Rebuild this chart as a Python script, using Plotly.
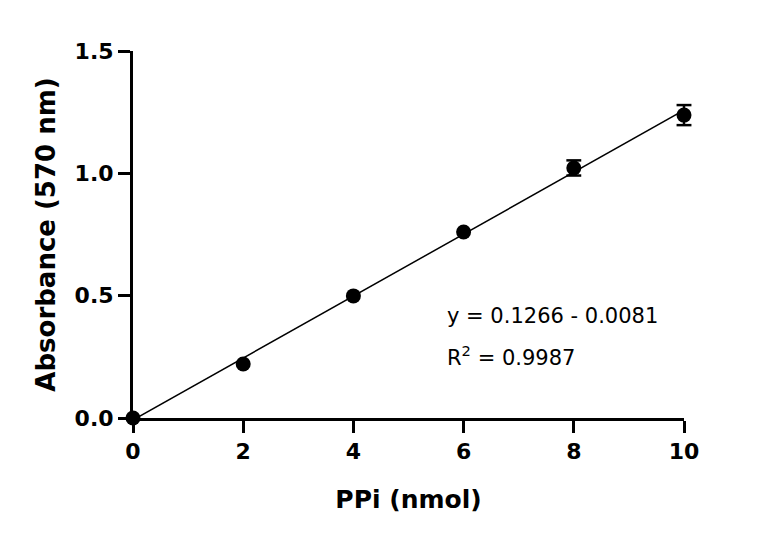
import plotly.graph_objects as go

ppi = [0, 2, 4, 6, 8, 10]
absorbance = [0.0, 0.221, 0.499, 0.760, 1.022, 1.238]
err = [0.0, 0.0, 0.0, 0.0, 0.031, 0.041]
slope = 0.1266
intercept = -0.0081
r2 = 0.9987
x_ticks = [0, 2, 4, 6, 8, 10]
y_ticks = [0.0, 0.5, 1.0, 1.5]

fit_x = [0, 10]
fit_y = [intercept + slope * v for v in fit_x]

# error bars built as line segments (on a wider data axis so they are not clipped)
cap = 0.135
ex, ey = [], []
for xv, yv, e in zip(ppi, absorbance, err):
    if e > 0:
        ex += [xv, xv, None, xv - cap, xv + cap, None, xv - cap, xv + cap, None]
        ey += [yv - e, yv + e, None, yv - e, yv - e, None, yv + e, yv + e, None]

font = "'DejaVu Sans', sans-serif"

# visible axis spans [0, 10] over a fraction of the plot width; data axis x2 spans full width
L, R = 133, 60
plot_w = 768 - L - R
axis_px = 551
dom = axis_px / plot_w
x2_max = 10 / dom

fig = go.Figure()
fig.add_trace(go.Scatter(x=fit_x, y=fit_y, mode="lines", xaxis="x", yaxis="y",
                         line=dict(color="black", width=1.5), cliponaxis=False,
                         showlegend=False, hoverinfo="skip"))
fig.add_trace(go.Scatter(x=ex, y=ey, mode="lines", xaxis="x2", yaxis="y",
                         line=dict(color="black", width=2.5), cliponaxis=False,
                         showlegend=False, hoverinfo="skip"))
fig.add_trace(go.Scatter(x=ppi, y=absorbance, mode="markers", xaxis="x2", yaxis="y",
                         marker=dict(color="black", size=15),
                         cliponaxis=False, showlegend=False))

ann_x = (445 - L) / plot_w
fig.add_annotation(x=ann_x, y=0.279, xref="paper", yref="paper",
                   text=f"y = {slope:.4f} - {abs(intercept):.4f}",
                   showarrow=False, xanchor="left", yanchor="middle",
                   font=dict(family=font, size=21, color="black"))
fig.add_annotation(x=ann_x, y=0.169, xref="paper", yref="paper",
                   text=f"R<sup>2</sup> = {r2:.4f}",
                   showarrow=False, xanchor="left", yanchor="middle",
                   font=dict(family=font, size=21, color="black"))

fig.update_layout(
    width=768, height=546,
    margin=dict(l=L, r=R, t=51, b=128),
    paper_bgcolor="white", plot_bgcolor="rgba(0,0,0,0)",
    font=dict(family=font, color="black"),
    xaxis=dict(domain=[0, dom], range=[0, 10], tickvals=x_ticks,
               ticktext=[str(v) for v in x_ticks], anchor="y",
               showgrid=False, zeroline=False, showline=True, linecolor="black",
               linewidth=3, ticks="outside", ticklen=12, tickwidth=3, tickcolor="black",
               tickfont=dict(family=font, size=22, color="black", weight="bold"),
               title=dict(text="<b>PPi (nmol)</b>", font=dict(family=font, size=25), standoff=28)),
    xaxis2=dict(domain=[0, 1], range=[0, x2_max], anchor="y", visible=False,
                showgrid=False, zeroline=False),
    yaxis=dict(range=[0, 1.5], tickvals=y_ticks, ticktext=[f"{v:.1f}" for v in y_ticks],
               anchor="x",
               showgrid=False, zeroline=False, showline=True, linecolor="black",
               linewidth=3, ticks="outside", ticklen=12, tickwidth=3, tickcolor="black",
               tickfont=dict(family=font, size=22, color="black", weight="bold"),
               title=dict(text="<b>Absorbance (570 nm)</b>", font=dict(family=font, size=26), standoff=12)),
)

fig.write_html("out.html")
